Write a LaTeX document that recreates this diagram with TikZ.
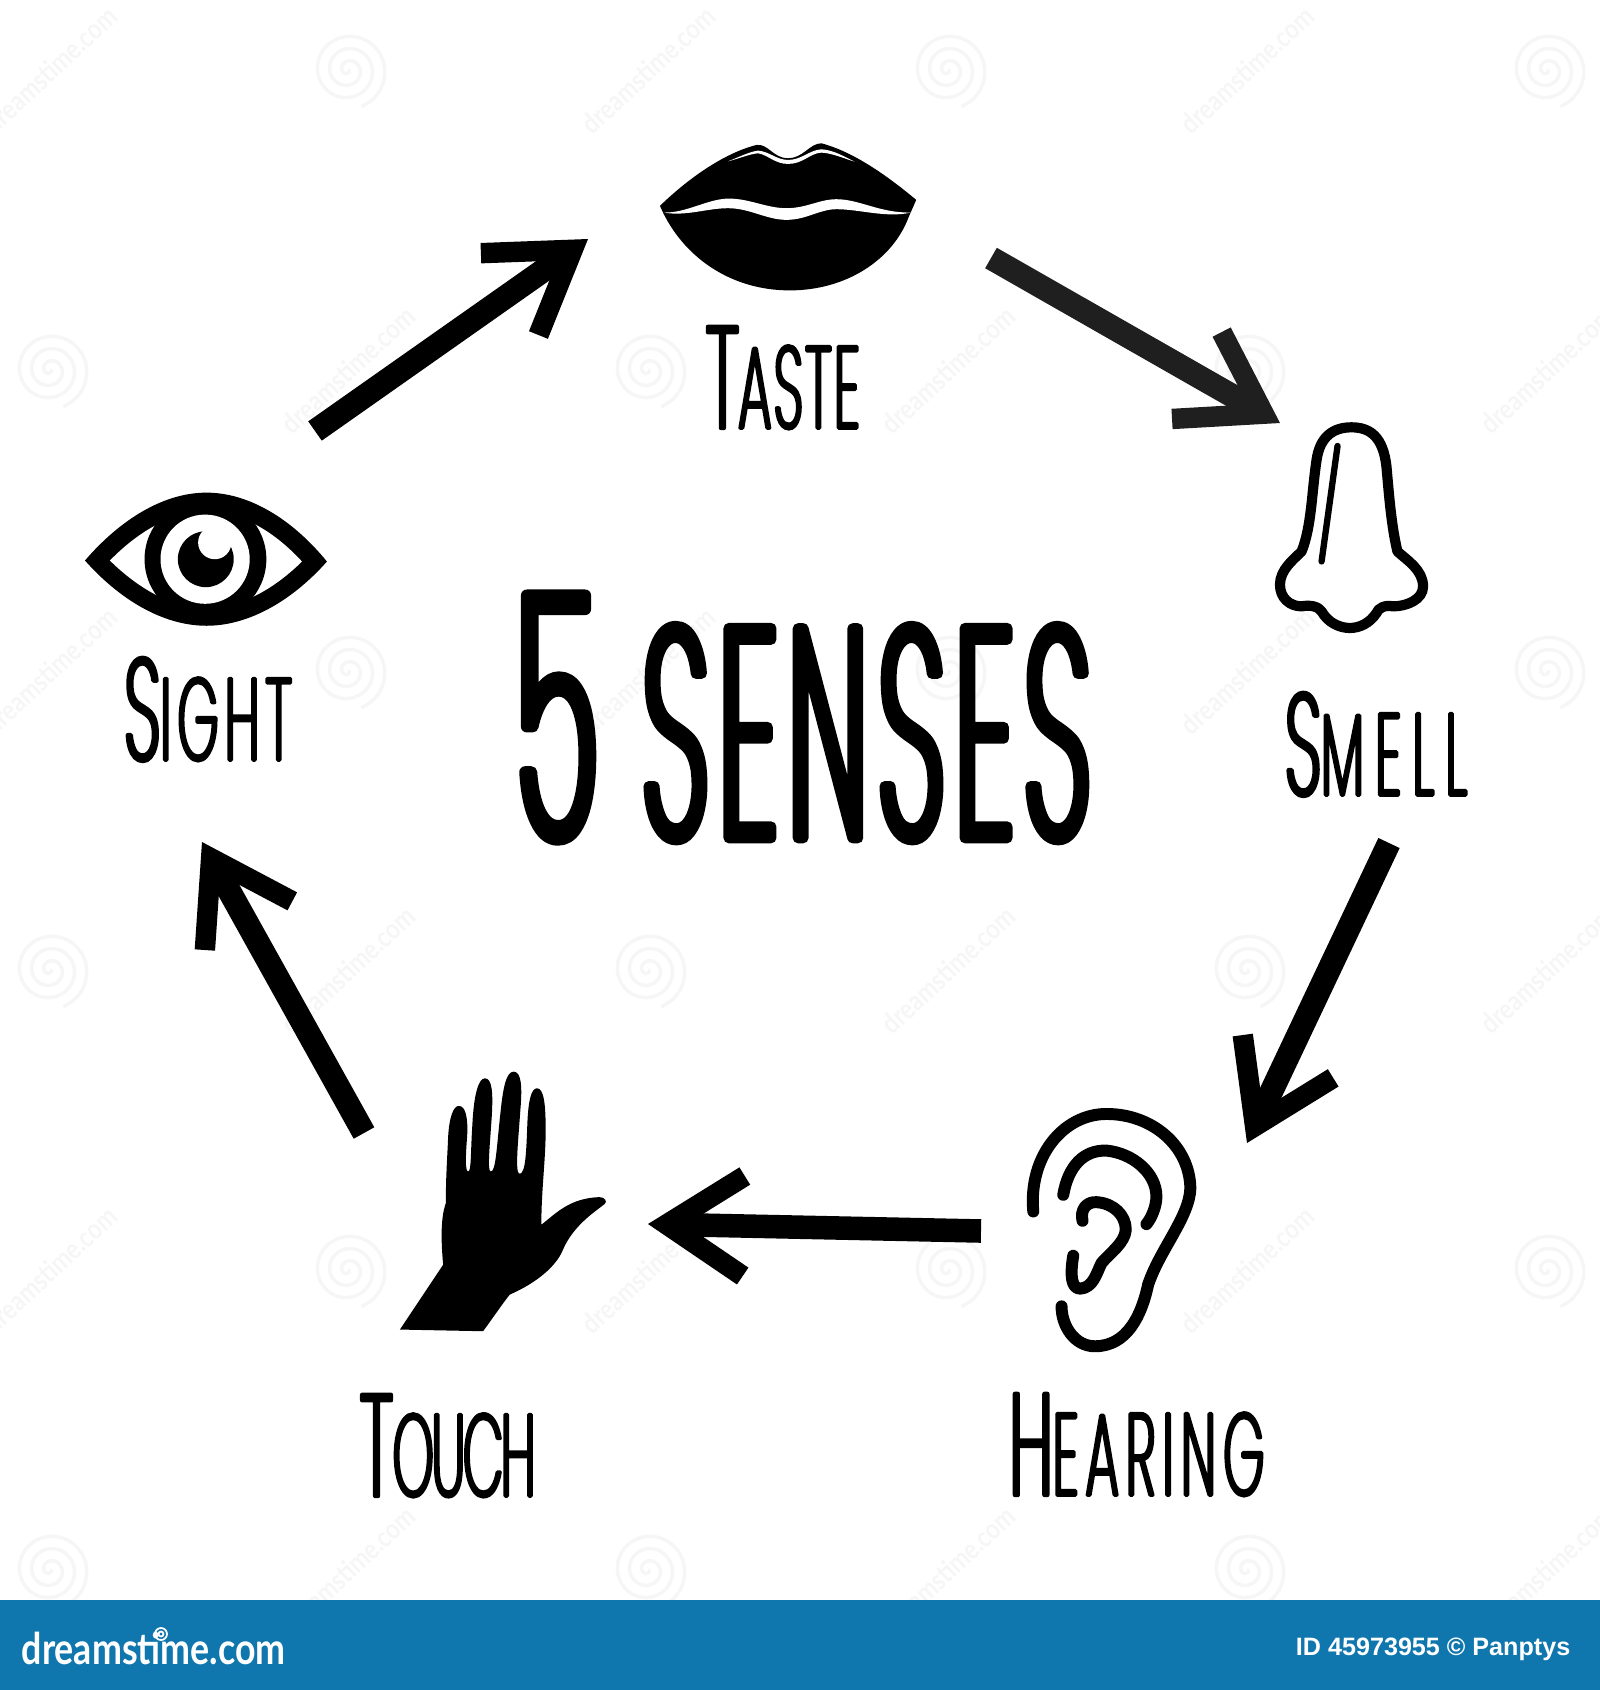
\documentclass[tikz,border=0pt]{standalone}
\usepackage{fontspec}
\usepackage{xcolor}
\usetikzlibrary{arrows.meta, positioning}
\setmainfont{Liberation Sans}
\newfontfamily\handfont[FakeStretch=0.45,FakeBold=3]{Poppins ExtraLight}
\newfontfamily\titlefont[FakeStretch=0.4,FakeBold=3.5]{Poppins ExtraLight}
\newfontfamily\brandfont[FakeStretch=0.82]{Lato}
\newcommand{\lowcap}{\fontsize{33}{33}\selectfont}
\newcommand{\fivecap}{\fontsize{97}{97}\selectfont}
\definecolor{barblue}{HTML}{0F76AE}
\definecolor{markgray}{HTML}{F6F6F6}

\begin{document}
\begin{tikzpicture}[
  x=0.01cm, y=-0.01cm,
  senselabel/.style={anchor=base, inner sep=0pt, line join=round, line cap=round,
                     font=\handfont\fontsize{41}{41}\selectfont\addfontfeature{LetterSpace=#1}},
  headline/.style={anchor=base, inner sep=0pt, line join=round, line cap=round,
                   font=\titlefont\fontsize{85}{85}\selectfont\addfontfeature{LetterSpace=3.5}},
  arr/.style={-{Straight Barb[length=7.7mm, width=10mm, line width=5.8pt]}, line width=6.7pt},
  zoomed/.style={x=0.0033333cm, y=-0.0033333cm},
  contour/.style={line width=2.9pt, line cap=round, line join=round},
  spiral/.style={draw=markgray, line width=1pt},
  stamp/.style={text=markgray, rotate=43, inner sep=0pt, font=\brandfont\bfseries\fontsize{8}{8}\selectfont}
]
\path[use as bounding box, clip] (0,0) rectangle (1600,1690);

\foreach \mx/\my in {348/70, 948/70, 1547/70, 50/370, 648/370, 1247/370, 348/671, 948/671, 1547/671,
                     50/970, 648/970, 1247/970, 348/1270, 948/1270, 1547/1270, 50/1570, 648/1570, 1247/1570} {
  \draw[spiral, domain=0:1150, samples=60, smooth, variable=\t] plot ({\mx+0.034*\t*cos(\t)},{\my+0.034*\t*sin(\t)});
}
\foreach \mx/\my in {50/70, 648/70, 1247/70, 348/370, 948/370, 1547/370, 50/671, 648/671, 1247/671,
                     348/970, 948/970, 1547/970, 50/1270, 648/1270, 1247/1270, 348/1570, 948/1570, 1547/1570} {
  \node[stamp] at (\mx,\my) {dreamstime.com};
}

% footer
\fill[barblue] (0,1600) rectangle (1600,1690);
\node[anchor=base west, inner sep=0pt, text=white, font=\brandfont\bfseries\fontsize{12.4}{12.4}\selectfont] (brand) at (21,1664) {dreamstime.com};
\draw[white, line width=.5pt] (161,1634) circle (6) (161,1634) circle (2.5);
\node[anchor=base east, inner sep=0pt, text=white, font=\bfseries\fontsize{7.15}{7.15}\selectfont] (credit) at (1571,1655) {ID 45973955 © Panptys};

% labels
\node[headline] (title) at (803,838) {{\fivecap 5} SENSES};
\node[senselabel=2.3] (taste) at (783,428) {T{\lowcap ASTE}};
\node[senselabel=5.4] (sight) at (208,760) {S{\lowcap IGHT}};
\node[senselabel=10] (smell) at (1376,795) {S{\lowcap MELL}};
\node[senselabel=6.4] (hearing) at (1137,1495) {H{\lowcap EARING}};
\node[senselabel=-2] (touch) at (448,1496) {T{\lowcap OUCH}};

% lips
\begin{scope}[shift={(640,120)}, zoomed]
\fill (60,258) .. controls (140,180) and (250,100) .. (350,75)
  .. controls (385,70) and (400,115) .. (445,115)
  .. controls (490,115) and (510,70) .. (545,70)
  .. controls (640,95) and (740,165) .. (830,240)
  -- (808,290) .. controls (760,420) and (620,512) .. (450,512)
  .. controls (280,512) and (140,420) .. (70,280) -- cycle;
\fill[white] (70,278) .. controls (140,280) and (200,238) .. (265,236)
  .. controls (330,236) and (380,265) .. (440,265)
  .. controls (500,265) and (540,238) .. (590,238)
  .. controls (660,238) and (720,280) .. (815,278)
  .. controls (740,295) and (660,268) .. (590,268)
  .. controls (540,268) and (500,300) .. (440,300)
  .. controls (380,300) and (330,265) .. (265,265)
  .. controls (200,265) and (140,290) .. (70,278) -- cycle;
\fill[white] (265,124) .. controls (300,110) and (330,95) .. (355,92)
  .. controls (390,95) and (410,120) .. (445,120)
  .. controls (485,120) and (510,90) .. (545,88)
  .. controls (580,90) and (610,108) .. (645,125)
  .. controls (610,115) and (580,100) .. (545,98)
  .. controls (510,100) and (490,132) .. (445,132)
  .. controls (405,132) and (385,105) .. (355,100)
  .. controls (330,102) and (300,115) .. (265,124) -- cycle;
\end{scope}

% eye
\begin{scope}[shift={(70,470)}, zoomed]
\fill (45,272) .. controls (150,150) and (280,68) .. (410,68)
  .. controls (540,68) and (670,150) .. (772,275)
  .. controls (670,390) and (540,468) .. (410,468)
  .. controls (280,468) and (150,390) .. (45,272) -- cycle;
\fill[white] (120,272) .. controls (220,170) and (320,125) .. (410,125)
  .. controls (500,125) and (600,170) .. (697,275)
  .. controls (600,370) and (500,415) .. (410,415)
  .. controls (320,415) and (220,370) .. (120,272) -- cycle;
\fill (407,268) circle (183);
\fill[white] (406,268) circle (134);
\fill (408,268) circle (84);
\fill[white] (435,218) circle (50);
\end{scope}

% nose
\begin{scope}[shift={(1260,410)}, zoomed]
\draw[contour] (125,425) .. controls (155,350) and (155,250) .. (170,150)
  .. controls (180,80) and (220,52) .. (275,52)
  .. controls (330,52) and (370,80) .. (380,170)
  .. controls (388,260) and (395,350) .. (413,425)
  .. controls (440,450) and (490,480) .. (490,530)
  .. controls (490,570) and (440,590) .. (400,590)
  .. controls (375,585) and (355,595) .. (350,610)
  .. controls (330,640) and (300,655) .. (270,655)
  .. controls (240,655) and (205,640) .. (185,605)
  .. controls (175,590) and (150,585) .. (125,590)
  .. controls (90,590) and (60,565) .. (60,525)
  .. controls (60,480) and (100,450) .. (125,425) -- cycle;
\draw[contour, line width=1.8pt] (233,108) -- (185,455);
\end{scope}

% ear
\begin{scope}[shift={(1000,1090)}, zoomed]
\draw[contour, line width=3.4pt] (100,365) .. controls (85,200) and (190,72) .. (320,72)
  .. controls (460,72) and (570,170) .. (572,295)
  .. controls (570,380) and (480,480) .. (445,585)
  .. controls (425,680) and (380,770) .. (285,770)
  .. controls (225,770) and (185,710) .. (185,650);
\draw[contour, line width=3.4pt] (190,315) .. controls (205,230) and (250,180) .. (320,182)
  .. controls (400,190) and (470,250) .. (470,320)
  .. controls (470,350) and (455,385) .. (440,403);
\draw[contour, line width=3.4pt] (248,393) .. controls (240,360) and (260,335) .. (290,337)
  .. controls (340,340) and (378,375) .. (378,420)
  .. controls (375,460) and (330,490) .. (305,520)
  .. controls (290,550) and (280,595) .. (240,597)
  .. controls (215,595) and (210,560) .. (220,498);
\end{scope}

% hand
\begin{scope}[shift={(340,1050)}, zoomed]
\fill (180,840) -- (310,645) .. controls (305,590) and (300,510) .. (318,460)
  .. controls (318,380) and (322,330) .. (325,260)
  .. controls (328,205) and (340,168) .. (357,168)
  .. controls (378,168) and (385,205) .. (382,260)
  .. controls (378,310) and (375,365) .. (385,365)
  .. controls (395,365) and (392,310) .. (398,220)
  .. controls (402,140) and (415,85) .. (435,85)
  .. controls (458,85) and (460,130) .. (456,200)
  .. controls (450,290) and (442,365) .. (453,365)
  .. controls (468,365) and (470,300) .. (482,190)
  .. controls (490,110) and (500,65) .. (522,65)
  .. controls (545,65) and (548,110) .. (542,180)
  .. controls (535,280) and (525,372) .. (540,372)
  .. controls (558,372) and (560,300) .. (563,220)
  .. controls (566,150) and (575,115) .. (592,115)
  .. controls (612,115) and (618,160) .. (618,240)
  .. controls (618,330) and (605,420) .. (605,525)
  .. controls (650,490) and (690,445) .. (780,442)
  .. controls (795,442) and (805,455) .. (795,463)
  .. controls (760,490) and (700,530) .. (670,600)
  .. controls (650,650) and (590,700) .. (510,735)
  .. controls (490,760) and (470,790) .. (430,845) -- cycle;
\end{scope}

% arrows
\coordinate (sightout) at (315,431);
\coordinate (tastein) at (588,239);
\coordinate (tasteout) at (991,258);
\coordinate (smellin) at (1280,423);
\coordinate (smellout) at (1389,843);
\coordinate (hearingin) at (1247,1143);
\coordinate (hearingout) at (981,1231);
\coordinate (touchin) at (648,1224);
\coordinate (touchout) at (364,1133);
\coordinate (sightin) at (202,842);
\draw[arr] (sightout) -- (tastein);
\draw[arr, black!88] (tasteout) -- (smellin);
\draw[arr] (smellout) -- (hearingin);
\draw[arr] (hearingout) -- (touchin);
\draw[arr] (touchout) -- (sightin);
\end{tikzpicture}
\end{document}
